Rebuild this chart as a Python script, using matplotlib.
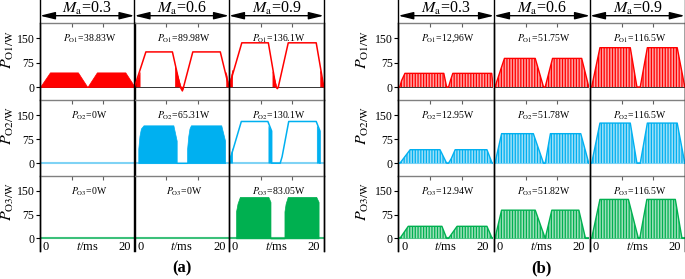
import matplotlib.pyplot as plt
import numpy as np

plt.rcParams['font.family'] = ['Liberation Serif', 'DejaVu Serif']
plt.rcParams['mathtext.fontset'] = 'stix'
plt.rcParams['hatch.linewidth'] = 0.9

W, H = 685, 279  # output size in pixels

ma_values = ['0.3', '0.6', '0.9']
row_names = ['O1', 'O2', 'O3']
y_ticks = [0, 75, 150]

# average output power printed in each cell
a_power = [['38.83', '89.98', '136.1'],
           ['0', '65.31', '130.1'],
           ['0', '0', '83.05']]
b_power = [['12,96', '51.75', '116.5'],
           ['12.95', '51.78', '116.5'],
           ['12.94', '51.82', '116.5']]

# panel (a): power envelopes, time in ms, power in W
a_t = [
    [[0, 2.1, 8.0, 10.0, 12.0, 18.0, 20.0],
     [0, 2.4, 8.0, 9.65, 10.1, 10.35, 12.3, 18.1, 19.9, 20.0],
     [0, 2.7, 8.3, 9.9, 10.2, 10.4, 12.5, 18.4, 20.0]],
    [[0, 20],
     [0.8, 0.8, 1.05, 1.35, 1.9, 8.2, 8.9, 8.9,
      11.1, 11.1, 11.35, 11.6, 11.9, 18.3, 19.1, 19.1],
     [0, 0.4, 2.6, 8.2, 9.0, 9.0, 10.8, 11.2, 12.6, 18.4, 19.2, 19.2]],
    [[0, 20],
     [0, 20],
     [1.5, 1.5, 1.8, 2.3, 8.3, 8.75, 8.75,
      11.7, 11.7, 11.95, 12.4, 18.4, 18.9, 18.9]],
]
a_p = [
    [[0, 45, 45, 0, 45, 45, 0],
     [0, 108, 108, 0, -12, 0, 108, 108, 0, 0],
     [0, 136, 136, 0, -5, 0, 136, 136, 0]],
    [[0, 0],
     [0, 45, 85, 108, 118, 118, 70, 0,
      0, 45, 85, 108, 118, 118, 70, 0],
     [0, 20, 130, 130, 100, 0, 0, 20, 130, 130, 100, 0]],
    [[0, 0],
     [0, 0],
     [0, 86, 110, 131, 131, 115, 0,
      0, 85, 110, 131, 131, 115, 0]],
]
a_style = [['solid', 'outline', 'outline'],
           ['flat', 'solid', 'outline'],
           ['flat', 'flat', 'solid']]

# dark wedges near the zero crossings of the outlined waveforms
a_wedge_t = {(0, 1): [[0, 1.2, 1.2], [8.6, 8.6, 10.1, 10.5], [19.4, 19.4, 20]],
             (0, 2): [[0, 0.8, 0.8], [9.25, 9.25, 10.2, 10.6], [19.3, 19.3, 20]],
             (1, 2): [[0, 0.8, 0.8], [8.4, 8.4, 9.0, 9.0], [18.6, 18.6, 19.2, 19.2]]}
a_wedge_p = {(0, 1): [[0, 45, 0], [0, 63, -12, 0], [0, 45, 0]],
             (0, 2): [[0, 52, 0], [0, 47, -5, 0], [0, 50, 0]],
             (1, 2): [[0, 45, 0], [0, 115, 100, 0], [0, 115, 100, 0]]}

# panel (b): envelopes of the chopped (PWM) power
b_t = [
    [[0, 0.3, 0.7, 1.4, 9.6, 10.2, 10.6, 11.0, 11.5, 19.7, 20.0],
     [0, 0.2, 2.2, 8.7, 10.45, 10.8, 12.35, 18.5, 20.0],
     [0, 0.35, 2.1, 8.5, 9.9, 10.6, 12.1, 18.4, 20.0]],
    [[0, 0.35, 2.5, 8.8, 10.2, 10.6, 11.2, 12.0, 18.7, 19.8, 20.0],
     [0, 0.2, 1.6, 8.3, 10.45, 10.8, 11.9, 18.3, 20.0],
     [0, 0.35, 2.1, 8.5, 9.9, 10.6, 12.1, 18.4, 20.0]],
    [[0, 0.35, 2.1, 9.2, 10.2, 10.6, 12.4, 18.7, 19.8, 20.0],
     [0, 0.2, 1.6, 8.7, 10.8, 10.8, 12.2, 17.9, 19.3, 20.0],
     [0, 0.35, 2.1, 8.1, 10.2, 10.5, 12.0, 18.0, 19.4, 20.0]],
]
b_p = [
    [[0, 0, 20, 42, 42, 0, 0, 20, 42, 42, 0],
     [0, 0, 88, 88, 0, 0, 88, 88, 0],
     [0, 0, 121, 121, 0, 0, 121, 121, 0]],
    [[0, 0, 42, 42, 0, 0, 15, 42, 42, 0, 0],
     [0, 0, 92, 92, 0, 0, 92, 92, 0],
     [0, 0, 125, 125, 0, 0, 125, 125, 0]],
    [[0, 0, 38, 38, 0, 0, 38, 38, 0, 0],
     [0, 0, 89, 89, 0, 0, 89, 89, 0, 0],
     [0, 0, 123, 123, 0, 0, 123, 123, 0, 0]],
]

row_colors = ['#ff0000', '#00b0f0', '#00b050']
row_zero = ['#ff0000', '#7fd3f5', '#3cc07a']
row_light = ['#ffa3a3', '#9edff8', '#9ee0bb']

# layout (pixels)
a_left = [40, 134.5, 229]
b_left = [398.3, 494, 590]
col_w = 94.8
row_top = [23, 100, 176]
row_h = [77, 76, 75]


def px_axes(fig, x0, y0, w, h):
    return fig.add_axes([x0 / W, 1 - (y0 + h) / H, w / W, h / H])


def setup_axes(ax, row, col, label_x):
    ax.set_xlim(0, 20)
    ax.set_ylim(-40, 197)
    for s in ['top', 'bottom', 'left', 'right']:
        ax.spines[s].set_visible(False)
    ax.spines['left'].set_visible(True)
    ax.spines['left'].set_linewidth(1.0)
    ax.spines['top'].set_visible(True)
    ax.spines['top'].set_color('#808080')
    ax.spines['top'].set_linewidth(1.0)
    if col == 2:
        ax.spines['right'].set_visible(True)
        ax.spines['right'].set_linewidth(1.0)
    # small ticks along the top edge
    ax.xaxis.tick_top()
    ax.set_xticks([20 / 3, 40 / 3])
    ax.tick_params(axis='x', direction='in', length=3, color='#606060',
                   labeltop=False, labelbottom=False)
    if col == 0:
        ax.set_yticks(y_ticks)
        ax.tick_params(axis='y', direction='out', length=3, pad=1,
                       labelsize=8.5)
        ax.set_ylabel(r'$P_{\mathrm{%s/W}}$' % row_names[row], fontsize=11.5)
        ax.yaxis.set_label_coords(label_x, 0.66)
    else:
        ax.set_yticks([])
    if row == 2:
        ax.text(0.03, 0.05, '0', transform=ax.transAxes, fontsize=9,
                ha='left', va='center')
        ax.text(0.5, 0.05, r'$t$/ms', transform=ax.transAxes, fontsize=9,
                ha='center', va='center')
        ax.text(0.96, 0.05, '20', transform=ax.transAxes, fontsize=9,
                ha='right', va='center')


def power_text(ax, row, value):
    ax.text(0.52, 0.79, r'$P_{\mathrm{%s}}$=%sW' % (row_names[row], value),
            transform=ax.transAxes, fontsize=7, ha='center', va='center')


def draw_panel_a(fig):
    for row in range(3):
        for col in range(3):
            ax = px_axes(fig, a_left[col], row_top[row], col_w, row_h[row])
            setup_axes(ax, row, col, -0.25)
            t = a_t[row][col]
            p = a_p[row][col]
            c = row_colors[row]
            style = a_style[row][col]
            if row == 0:
                ax.axhline(0, color='#333333', lw=0.7, zorder=1)
            else:
                ax.axhline(0, color=row_zero[row], lw=1.5, zorder=1)
            if style == 'solid':
                ax.fill_between(t, 0, p, color=c, lw=0.5, zorder=2)
            elif style == 'outline':
                ax.plot(t, p, color=c, lw=1.1, zorder=3)
                for wt, wp in zip(a_wedge_t[(row, col)], a_wedge_p[(row, col)]):
                    ax.fill(wt, wp, color=c, lw=0.3, zorder=2)
            power_text(ax, row, a_power[row][col])


def draw_panel_b(fig):
    for row in range(3):
        for col in range(3):
            ax = px_axes(fig, b_left[col], row_top[row], col_w, row_h[row])
            setup_axes(ax, row, col, -0.29)
            t = b_t[row][col]
            p = b_p[row][col]
            c = row_colors[row]
            if row == 0:
                ax.axhline(0, color='#333333', lw=0.7, zorder=1)
            else:
                ax.axhline(0, color=row_zero[row], lw=1.5, zorder=1)
            ax.fill_between(t, 0, p, facecolor=row_light[row], edgecolor=c,
                            hatch='||||||', lw=0, zorder=2)
            ax.plot(t, p, color=c, lw=1.0, zorder=3)
            power_text(ax, row, b_power[row][col])


def draw_frame(fig):
    # overlay in pixel units for the header arrows and the column lines
    ov = fig.add_axes([0, 0, 1, 1], facecolor='none')
    ov.set_xlim(0, W)
    ov.set_ylim(H, 0)
    ov.axis('off')
    for lefts in [a_left, b_left]:
        edges = lefts + [lefts[-1] + col_w]
        for x in edges:
            ov.plot([x, x], [0, 251], color='k', lw=1.0)
        for i in range(3):
            ov.annotate('', xy=(edges[i + 1], 15.7), xytext=(edges[i], 15.7),
                        arrowprops=dict(arrowstyle='<|-|>,head_length=0.9,head_width=0.22',
                                        color='k', lw=1.0, mutation_scale=10,
                                        shrinkA=0, shrinkB=0))
            ov.text((edges[i] + edges[i + 1]) / 2, 12.8,
                    r'$M_{\mathrm{a}}$=%s' % ma_values[i], fontsize=11.5,
                    ha='center', va='baseline')
    ov.text(182, 268, '(a)', fontsize=12, fontweight='bold', ha='center', va='center')
    ov.text(541, 268, '(b)', fontsize=12, fontweight='bold', ha='center', va='center')


def main():
    fig = plt.figure(figsize=(W / 100, H / 100), dpi=100)
    draw_panel_a(fig)
    draw_panel_b(fig)
    draw_frame(fig)
    fig.savefig('out.png', dpi=100)


if __name__ == '__main__':
    main()
